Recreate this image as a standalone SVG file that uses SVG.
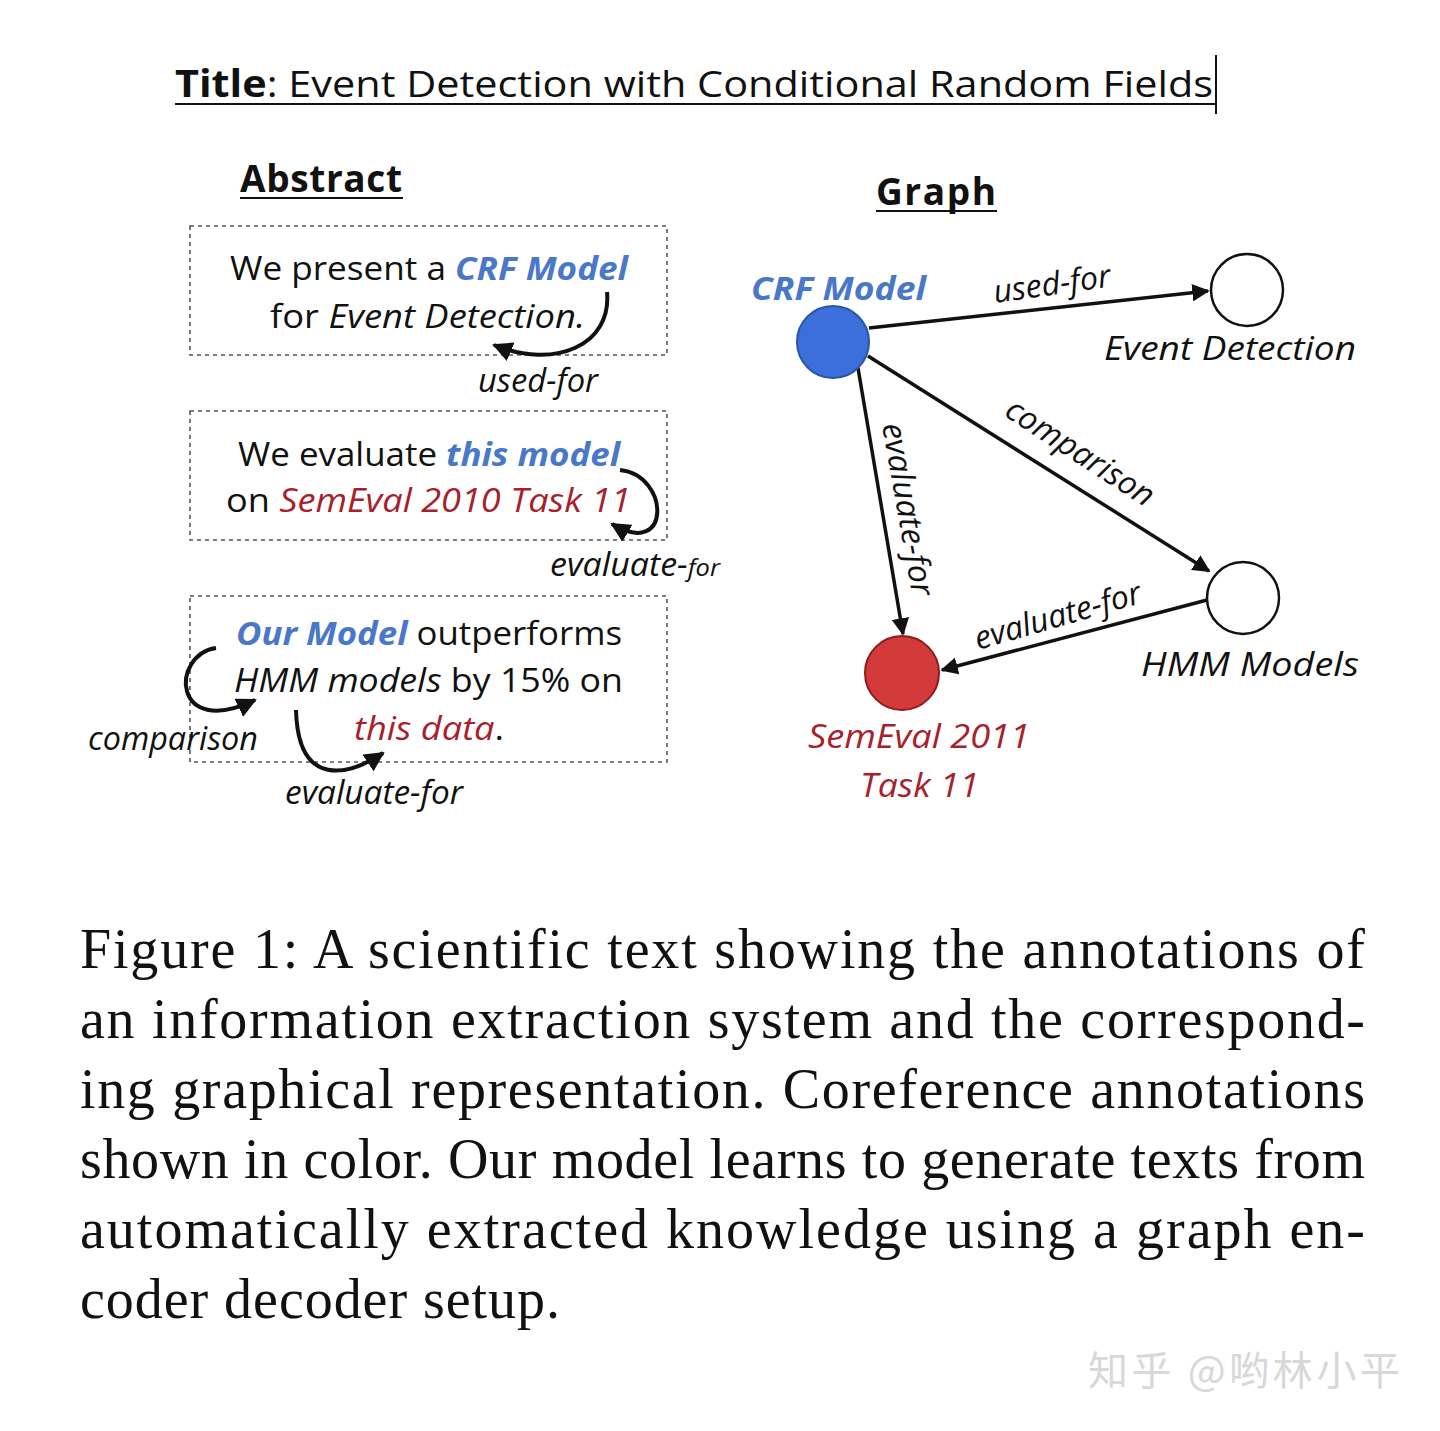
<svg xmlns="http://www.w3.org/2000/svg" width="1440" height="1431" viewBox="0 0 1440 1431">
<style>
.s{font-family:"Open Sans","Noto Sans",sans-serif;font-size:32px;fill:#111}
.i{font-style:italic}
.b{fill:#4a78c8;font-weight:bold;font-style:italic}
.r{fill:#a8202a;font-style:italic}
.h{font-family:"Open Sans","Noto Sans",sans-serif;font-weight:bold;font-size:37px;fill:#111}
.box{fill:none;stroke:#555;stroke-width:1.6;stroke-dasharray:4 4}
.c{fill:none;stroke:#111;stroke-width:4}
.e{fill:none;stroke:#111;stroke-width:3.5}
.cap{font-family:"Liberation Serif",serif;font-size:56px;fill:#111}
.lbl{font-family:"Open Sans","Noto Sans",sans-serif;font-size:32px;fill:#111;font-style:italic}
</style>
<defs>
<marker id="a" viewBox="0 0 10 10" refX="9" refY="5" markerWidth="5" markerHeight="5" orient="auto"><path d="M0,0L10,5L0,10z" fill="#111"/></marker>
</defs>
<rect width="1440" height="1431" fill="#fff"/>
<text x="175" y="97" font-family="Open Sans,sans-serif" font-size="37" fill="#111" textLength="1038" lengthAdjust="spacingAndGlyphs"><tspan font-weight="bold">Title</tspan>: Event Detection with Conditional Random Fields</text>
<line x1="175" y1="104" x2="1215" y2="104" stroke="#111" stroke-width="2"/>
<line x1="1216" y1="55" x2="1216" y2="114" stroke="#111" stroke-width="2"/>
<text class="h" x="240" y="192" textLength="162">Abstract</text>
<line x1="240" y1="198" x2="403" y2="198" stroke="#111" stroke-width="2"/>
<text class="h" x="876" y="205" textLength="120">Graph</text>
<line x1="876" y1="211" x2="997" y2="211" stroke="#111" stroke-width="2"/>

<g id="abs1">
<rect class="box" x="190" y="226" width="477" height="129"/>
<text class="s" x="230" y="280" textLength="398" lengthAdjust="spacingAndGlyphs">We present a <tspan class="b">CRF Model</tspan></text>
<text class="s" x="270" y="328" textLength="315" lengthAdjust="spacingAndGlyphs">for <tspan class="i">Event Detection.</tspan></text>
</g>
<g id="abs2">
<rect class="box" x="190" y="411" width="477" height="129"/>
<text class="s" x="238" y="466" textLength="382" lengthAdjust="spacingAndGlyphs">We evaluate <tspan class="b">this model</tspan></text>
<text class="s" x="226" y="512" textLength="405" lengthAdjust="spacingAndGlyphs">on <tspan class="r">SemEval 2010 Task 11</tspan></text>
</g>
<g id="abs3">
<rect class="box" x="190" y="596" width="477" height="166"/>
<text class="s" x="236" y="645" textLength="386" lengthAdjust="spacingAndGlyphs"><tspan class="b">Our Model</tspan> outperforms</text>
<text class="s" x="234" y="692" textLength="389" lengthAdjust="spacingAndGlyphs"><tspan class="i">HMM models</tspan> by 15% on</text>
<text class="s" x="354" y="740" textLength="150" lengthAdjust="spacingAndGlyphs"><tspan class="r">this data</tspan>.</text>
</g>
<g id="abs-connectors">
<path class="c" d="M607,292 C612,345 555,370 494,345" marker-end="url(#a)"/>
<text class="lbl" x="478" y="392" textLength="120" lengthAdjust="spacingAndGlyphs">used-for</text>
<path class="c" d="M620,470 C670,475 672,560 612,524" marker-end="url(#a)"/>
<text class="lbl" x="550" y="576" textLength="170" lengthAdjust="spacingAndGlyphs">evaluate-<tspan font-size="24">for</tspan></text>
<path class="c" d="M216,648 C170,655 172,740 255,700" marker-end="url(#a)"/>
<text class="lbl" x="88" y="750" textLength="170" lengthAdjust="spacingAndGlyphs">comparison</text>
<path class="c" d="M296,710 C298,790 350,775 383,753" marker-end="url(#a)"/>
<text class="lbl" x="285" y="804" textLength="178" lengthAdjust="spacingAndGlyphs">evaluate-for</text>
</g>

<g id="connectors">
<line class="e" x1="869" y1="328" x2="1208" y2="291" marker-end="url(#a)"/>
<line class="e" x1="868" y1="356" x2="1209" y2="571" marker-end="url(#a)"/>
<line class="e" x1="858" y1="368" x2="903" y2="634" marker-end="url(#a)"/>
<line class="e" x1="1207" y1="600" x2="942" y2="670" marker-end="url(#a)"/>
<text class="lbl" transform="translate(995,303) rotate(-8)" textLength="118" lengthAdjust="spacingAndGlyphs">used-for</text>
<text class="lbl" transform="translate(1003,415) rotate(33)" textLength="170" lengthAdjust="spacingAndGlyphs">comparison</text>
<text class="lbl" transform="translate(882,425) rotate(80)" textLength="175" lengthAdjust="spacingAndGlyphs">evaluate-for</text>
<text class="lbl" transform="translate(978,650) rotate(-16)" textLength="172" lengthAdjust="spacingAndGlyphs">evaluate-for</text>
</g>
<g id="crf"><circle cx="833" cy="342" r="36" fill="#3c6fdc" stroke="#2a55a8" stroke-width="2"/><text class="lbl" x="751" y="300" textLength="175" lengthAdjust="spacingAndGlyphs" style="fill:#4a78c8;font-weight:bold">CRF Model</text></g>
<g id="ed"><circle cx="1247" cy="290" r="36" fill="#fff" stroke="#111" stroke-width="2.5"/><text class="lbl" x="1104" y="360" textLength="252" lengthAdjust="spacingAndGlyphs">Event Detection</text></g>
<g id="hmm"><circle cx="1243" cy="598" r="36" fill="#fff" stroke="#111" stroke-width="2.5"/><text class="lbl" x="1141" y="676" textLength="218" lengthAdjust="spacingAndGlyphs">HMM Models</text></g>
<g id="sem"><circle cx="902" cy="673" r="37" fill="#d43a3a" stroke="#8a1e1e" stroke-width="2"/><text class="lbl" x="808" y="748" textLength="222" lengthAdjust="spacingAndGlyphs" style="fill:#a8202a">SemEval 2011</text><text class="lbl" x="860" y="797" textLength="119" lengthAdjust="spacingAndGlyphs" style="fill:#a8202a">Task 11</text></g>

<g id="caption">
<text class="cap" x="80" y="968" textLength="1285" lengthAdjust="spacing">Figure 1:  A scientific text showing the annotations of</text>
<text class="cap" x="80" y="1038" textLength="1285" lengthAdjust="spacing">an information extraction system and the correspond-</text>
<text class="cap" x="80" y="1108" textLength="1285" lengthAdjust="spacing">ing graphical representation.  Coreference annotations</text>
<text class="cap" x="80" y="1178" textLength="1285" lengthAdjust="spacing">shown in color. Our model learns to generate texts from</text>
<text class="cap" x="80" y="1248" textLength="1285" lengthAdjust="spacing">automatically extracted knowledge using a graph en-</text>
<text class="cap" x="80" y="1318" textLength="480" lengthAdjust="spacing">coder decoder setup.</text>
</g>
<text x="1088" y="1385" font-family="Noto Sans CJK SC,sans-serif" font-size="40" fill="#d8d8d8" textLength="312">知乎 @哟林小平</text>
</svg>
